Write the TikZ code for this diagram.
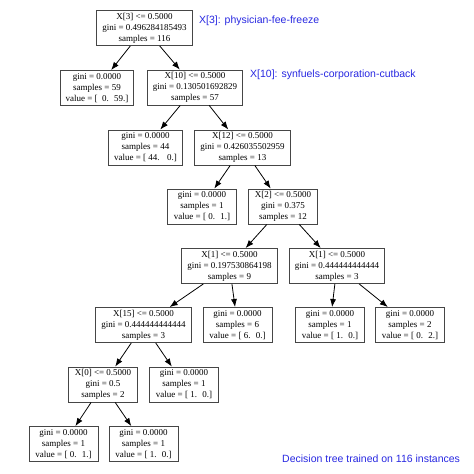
\documentclass[tikz,border=0pt]{standalone}
\usepackage{fontspec}
\setmainfont{Liberation Serif}
\newfontfamily\labelfont{Liberation Sans}
\usetikzlibrary{arrows.meta}
\definecolor{labelblue}{RGB}{40,40,225}
\definecolor{boxgray}{RGB}{70,70,70}
\newcommand{\lesseq}{\textless{}=}

\begin{document}
\begin{tikzpicture}[x=1pt,y=-1pt,>={Latex[length=8pt,width=6pt]},
  tree/.style={draw=boxgray,line width=0.9pt,align=center,font=\fontsize{9}{11}\selectfont,
    inner xsep=5.5pt,inner ysep=2pt,minimum width=69pt,minimum height=35pt},
  info/.style={anchor=west,text=labelblue,font=\labelfont\fontsize{10.5}{12}\selectfont,inner sep=0pt}]
\useasboundingbox (0,0) rectangle (474,474);
% splits and leaves
\node[tree] (n0) at (144.5,28) {X[3] \lesseq{} 0.5000\\gini = 0.496284185493\\samples = 116};
\node[tree] (n1) at (97,88) {gini = 0.0000\\samples = 59\\value = [ \ 0. \ 59.]};
\node[tree] (n2) at (195,87.5) {X[10] \lesseq{} 0.5000\\gini = 0.130501692829\\samples = 57};
\node[tree] (n3) at (145.5,147.5) {gini = 0.0000\\samples = 44\\value = [ 44. \ \ 0.]};
\node[tree] (n4) at (242.5,147.5) {X[12] \lesseq{} 0.5000\\gini = 0.426035502959\\samples = 13};
\node[tree] (n5) at (202,206.5) {gini = 0.0000\\samples = 1\\value = [ 0. \ 1.]};
\node[tree] (n6) at (283,206.5) {X[2] \lesseq{} 0.5000\\gini = 0.375\\samples = 12};
\node[tree] (n7) at (229.5,266) {X[1] \lesseq{} 0.5000\\gini = 0.197530864198\\samples = 9};
\node[tree] (n8) at (337,266) {X[1] \lesseq{} 0.5000\\gini = 0.444444444444\\samples = 3};
\node[tree] (n9) at (143.5,325) {X[15] \lesseq{} 0.5000\\gini = 0.444444444444\\samples = 3};
\node[tree] (n10) at (237.5,325) {gini = 0.0000\\samples = 6\\value = [ 6. \ 0.]};
\node[tree] (n11) at (330,325) {gini = 0.0000\\samples = 1\\value = [ 1. \ 0.]};
\node[tree] (n12) at (410,325) {gini = 0.0000\\samples = 2\\value = [ 0. \ 2.]};
\node[tree] (n13) at (103,384.5) {X[0] \lesseq{} 0.5000\\gini = 0.5\\samples = 2};
\node[tree] (n14) at (184,384.5) {gini = 0.0000\\samples = 1\\value = [ 1. \ 0.]};
\node[tree] (n15) at (63.5,444) {gini = 0.0000\\samples = 1\\value = [ 0. \ 1.]};
\node[tree] (n16) at (143.5,444) {gini = 0.0000\\samples = 1\\value = [ 1. \ 0.]};
\foreach \a/\b in {n0/n1,n0/n2,n2/n3,n2/n4,n4/n5,n4/n6,n6/n7,n6/n8,n7/n9,n7/n10,n8/n11,n8/n12,n9/n13,n9/n14,n13/n15,n13/n16}
\draw[->,line width=0.8pt] (\a) -- (\b);
% feature names
\node[info] (f3) at (199,21) {X[3]: physician-fee-freeze};
\node[info] (f10) at (250,75) {X[10]: synfuels-corporation-cutback};
\node[info] (cap) at (282,459) {Decision tree trained on 116 instances};
\end{tikzpicture}
\end{document}
